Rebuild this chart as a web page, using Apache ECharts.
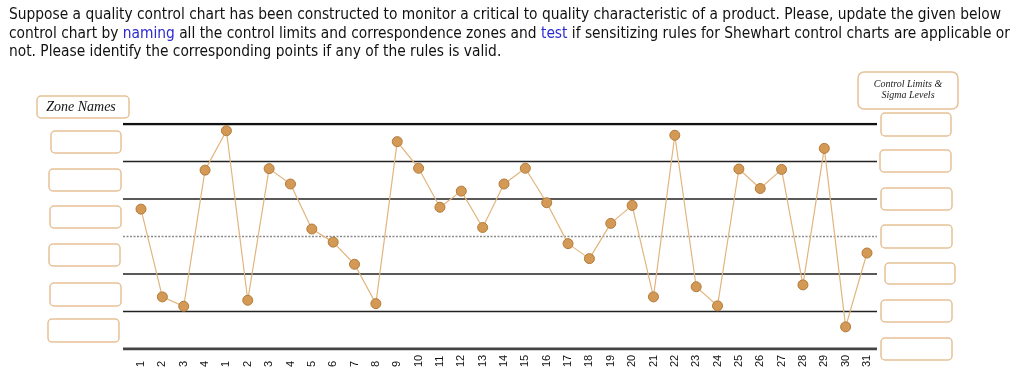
<!DOCTYPE html>
<html><head><meta charset="utf-8">
<script src="https://cdn.jsdelivr.net/npm/echarts@6/dist/echarts.min.js"></script>
<style>html,body{margin:0;padding:0;background:#fff}#c{width:1024px;height:374px}</style>
</head><body><div id="c"></div>
<script>
// categories (x tick labels)
const categories = ['1','2','3','4','1','2','3','4','5','6','7','8','9','10','11','12','13','14','15','16','17','18','19','20','21','22','23','24','25','26','27','28','29','30','31'];
// measured values in sigma units (centre line = 0)
const values = [0.73,-1.61,-1.86,1.77,2.82,-1.70,1.81,1.40,0.20,-0.15,-0.74,-1.79,2.53,1.82,0.78,1.21,0.24,1.40,1.82,0.90,-0.19,-0.59,0.35,0.83,-1.61,2.70,-1.34,-1.85,1.80,1.28,1.79,-1.29,2.35,-2.41,-0.44];
// control limit / sigma levels
const levels = [3,2,1,0,-1,-2,-3];
// title lines
const titleLine1 = 'Suppose a quality control chart has been constructed to monitor a critical to quality characteristic of a product. Please, update the given below';

const chart = echarts.init(document.getElementById('c'));
const titleFont = "'DejaVu Sans Condensed','Liberation Sans Narrow','Liberation Sans',sans-serif";
// fit title font size so the first line spans the same width as the reference
const cv = document.createElement('canvas').getContext('2d');
cv.font = "100px " + titleFont;
const titleSize = Math.min(17, 100 * 993 / cv.measureText(titleLine1).width);

const boxStyle = {fill:'#fff', stroke:'#E6C197', lineWidth:1.5};

function levelStyle(l){
  if (l === 0) return {color:'#8a8a8a', width:1.5, type:[2,1.5]};
  if (l === 3) return {color:'#111', width:2.5, type:'solid'};
  if (l === -3) return {color:'#444', width:3, type:'solid'};
  return {color:'#222', width:1.6, type:'solid'};
}

const levelSeries = levels.map(l => ({
  type:'line', xAxisIndex:1, yAxisIndex:1, data:[[0,l],[1,l]],
  symbol:'none', lineStyle:levelStyle(l), silent:true, z:1, animation:false
}));

const leftBoxes = [[51,131,70,22],[49,169,72,22],[50,206,71,22],[49,244,71,22],[50,283,71,23],[48,319,71,23]];
const rightBoxes = [[881,113,70,23],[880,150,71,22],[881,188,71,22],[881,225,71,23],[885,263,70,21],[881,300,71,22],[881,338,71,22]];

const graphics = [];
leftBoxes.concat(rightBoxes).forEach(b => graphics.push({type:'rect', shape:{x:b[0],y:b[1],width:b[2],height:b[3],r:4}, style:boxStyle, z:5}));
graphics.push({type:'rect', shape:{x:37,y:96,width:92,height:22,r:4}, style:boxStyle, z:5});
graphics.push({type:'text', x:81, y:107, style:{text:'Zone Names', fontStyle:'italic', fontSize:14, fontFamily:"'Liberation Serif',serif", fill:'#111', align:'center', verticalAlign:'middle'}, z:6});
graphics.push({type:'rect', shape:{x:858,y:72,width:100,height:37,r:6}, style:boxStyle, z:5});
graphics.push({type:'text', x:908, y:90, style:{text:'Control Limits &\nSigma Levels', fontStyle:'italic', fontSize:10, fontFamily:"'Liberation Serif',serif", lineHeight:11, fill:'#222', align:'center', verticalAlign:'middle'}, z:6});

chart.setOption({
  animation:false,
  title:{
    left:4, top:1,
    text:'{n|' + titleLine1 + '}\n{n|control chart by }{b|naming}{n| all the control limits and correspondence zones and }{b|test}{n| if sensitizing rules for Shewhart control charts are applicable or}\n{n|not. Please identify the corresponding points if any of the rules is valid.}',
    textStyle:{
      lineHeight:18.5, fontWeight:'normal',
      rich:{
        n:{fontFamily:titleFont, fontSize:titleSize, fontWeight:'normal', color:'#111', lineHeight:18.5},
        b:{fontFamily:titleFont, fontSize:titleSize, fontWeight:'normal', color:'#2a2ad0', lineHeight:18.5}
      }
    }
  },
  grid:[
    {left:141, right:157, top:124, bottom:25},
    {left:123, right:147, top:124, bottom:25}
  ],
  xAxis:[
    {type:'category', gridIndex:0, data:categories, boundaryGap:false,
     axisLine:{show:false}, axisTick:{show:false}, splitLine:{show:false},
     axisLabel:{rotate:90, align:'left', verticalAlign:'middle', margin:18, fontSize:11, color:'#111', fontFamily:"'Liberation Sans',sans-serif", interval:0}},
    {type:'value', gridIndex:1, min:0, max:1, show:false}
  ],
  yAxis:[
    {type:'value', gridIndex:0, min:-3, max:3, show:false},
    {type:'value', gridIndex:1, min:-3, max:3, show:false}
  ],
  graphic:graphics,
  series:levelSeries.concat([{
    type:'line', xAxisIndex:0, yAxisIndex:0, data:values,
    symbol:'circle', symbolSize:10,
    lineStyle:{color:'#E2B47E', width:1.2},
    itemStyle:{color:'#D49A55', borderColor:'#B07A3C', borderWidth:1},
    z:3
  }])
});
</script></body></html>
